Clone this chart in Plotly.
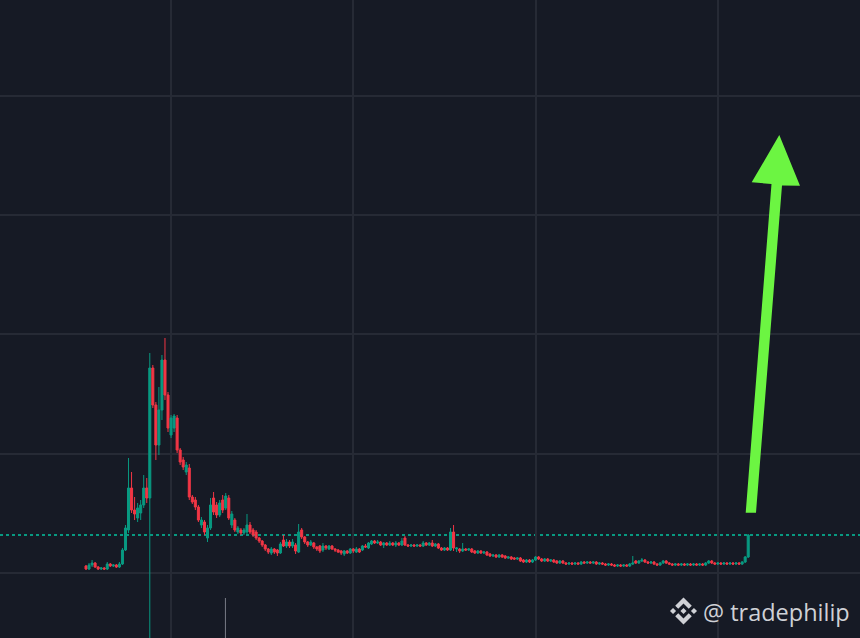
import plotly.graph_objects as go

# prices in ticks (1 tick = 0.0001), one candle per bar
TICK = 0.0001

opens = [
    134, 131, 135, 137, 133, 131, 132, 131, 136, 134, 135, 133, 136, 150, 170, 212, 190, 182, 187, 195,
    212, 202, 332, 295, 255, 290, 340, 305, 265, 272, 282, 250, 240, 228, 232, 203, 200, 193, 175, 178,
    162, 172, 202, 195, 185, 200, 192, 202, 175, 180, 168, 170, 167, 168, 175, 170, 168, 162, 159, 155,
    151, 147, 151, 150, 147, 160, 154, 158, 154, 155, 148, 170, 163, 158, 155, 157, 153, 154, 150, 154,
    151, 154, 151, 150, 149, 146, 149, 147, 151, 148, 151, 150, 154, 152, 156, 159, 157, 158, 155, 157,
    155, 157, 155, 157, 155, 162, 155, 154, 155, 154, 155, 154, 157, 155, 157, 154, 156, 152, 150, 152,
    150, 168, 151, 151, 149, 151, 150, 151, 149, 147, 149, 147, 148, 146, 144, 145, 143, 145, 144, 142,
    143, 142, 141, 142, 140, 138, 140, 138, 140, 143, 141, 139, 141, 139, 140, 139, 137, 139, 137, 136,
    137, 136, 137, 136, 138, 137, 138, 137, 138, 136, 137, 136, 135, 136, 135, 134, 135, 134, 135, 134,
    136, 139, 137, 139, 140, 138, 137, 138, 136, 135, 137, 139, 137, 136, 135, 136, 135, 136, 135, 136,
    135, 136, 135, 136, 135, 137, 139, 137, 136, 137, 136, 137, 136, 137, 136, 137, 136, 138, 143,
]
highs = [
    135, 137, 140, 138, 134, 133, 133, 138, 137, 136, 136, 138, 152, 175, 242, 228, 203, 197, 200, 225,
    222, 347, 335, 298, 313, 345, 362, 308, 285, 286, 285, 252, 243, 238, 236, 205, 203, 195, 183, 180,
    175, 202, 208, 198, 200, 205, 207, 205, 189, 182, 174, 172, 172, 186, 178, 172, 170, 163, 160, 156,
    152, 153, 152, 151, 158, 165, 161, 160, 161, 157, 176, 172, 164, 159, 160, 158, 154, 155, 157, 155,
    155, 155, 152, 151, 150, 150, 150, 152, 152, 153, 152, 155, 156, 158, 160, 160, 160, 159, 158, 158,
    159, 158, 159, 158, 162, 164, 156, 156, 156, 156, 156, 159, 158, 158, 160, 157, 157, 153, 153, 153,
    172, 175, 153, 152, 157, 152, 152, 152, 150, 150, 150, 149, 149, 147, 146, 146, 146, 146, 145, 144,
    144, 143, 143, 143, 141, 141, 141, 141, 144, 144, 142, 142, 142, 141, 141, 140, 140, 140, 138, 138,
    138, 138, 138, 139, 139, 139, 139, 139, 139, 138, 138, 137, 137, 137, 136, 136, 136, 136, 136, 137,
    144, 140, 140, 142, 141, 139, 139, 139, 137, 138, 140, 140, 138, 137, 137, 137, 137, 137, 137, 137,
    137, 137, 137, 137, 138, 140, 140, 138, 138, 138, 138, 138, 138, 138, 138, 138, 139, 144, 166,
]
lows = [
    130, 130, 133, 132, 130, 130, 130, 130, 133, 133, 132, 132, 135, 149, 167, 187, 180, 178, 180, 192,
    197, 20, 292, 240, 245, 280, 300, 268, 262, 268, 247, 235, 230, 225, 200, 196, 190, 178, 172, 165,
    158, 170, 185, 182, 183, 187, 190, 180, 172, 168, 166, 165, 165, 166, 166, 163, 160, 157, 153, 149,
    146, 145, 146, 144, 146, 153, 152, 152, 152, 146, 147, 161, 156, 153, 154, 151, 149, 147, 148, 150,
    150, 150, 148, 147, 145, 144, 146, 146, 147, 147, 147, 149, 152, 151, 155, 156, 156, 154, 152, 154,
    154, 154, 153, 154, 154, 154, 153, 153, 153, 153, 153, 153, 154, 154, 153, 153, 151, 149, 149, 149,
    149, 149, 148, 147, 148, 149, 149, 147, 146, 146, 146, 146, 144, 143, 143, 142, 142, 142, 141, 141,
    140, 140, 140, 138, 137, 137, 137, 137, 139, 140, 138, 138, 138, 138, 137, 136, 136, 136, 135, 135,
    135, 135, 135, 135, 136, 136, 136, 136, 135, 135, 135, 134, 134, 134, 133, 133, 133, 133, 133, 133,
    135, 136, 136, 138, 137, 136, 136, 135, 134, 134, 136, 136, 135, 134, 134, 134, 134, 134, 134, 134,
    134, 134, 134, 134, 134, 136, 136, 135, 135, 135, 135, 135, 135, 135, 135, 135, 135, 137, 142,
]
closes = [
    131, 135, 137, 133, 131, 132, 131, 136, 134, 135, 133, 136, 150, 172, 212, 190, 186, 192, 195, 212,
    202, 332, 295, 255, 290, 340, 305, 272, 282, 284, 250, 238, 233, 235, 203, 198, 193, 180, 180, 168,
    172, 195, 188, 185, 197, 190, 204, 182, 186, 170, 172, 167, 170, 175, 168, 165, 162, 159, 155, 151,
    148, 151, 148, 147, 156, 154, 158, 154, 158, 149, 168, 163, 158, 155, 158, 153, 151, 149, 154, 152,
    154, 151, 150, 148, 147, 149, 147, 151, 149, 151, 148, 154, 153, 157, 159, 157, 158, 155, 157, 155,
    157, 155, 157, 155, 159, 155, 154, 155, 154, 155, 154, 157, 155, 157, 154, 156, 152, 150, 152, 150,
    168, 152, 152, 149, 151, 150, 151, 148, 147, 149, 147, 148, 145, 144, 145, 143, 145, 143, 142, 143,
    141, 141, 142, 139, 138, 140, 138, 140, 143, 141, 139, 141, 139, 140, 138, 137, 139, 137, 136, 137,
    136, 137, 136, 138, 137, 138, 137, 138, 136, 137, 136, 135, 136, 135, 134, 135, 134, 135, 134, 136,
    137, 137, 139, 140, 138, 137, 138, 136, 135, 137, 139, 137, 136, 135, 136, 135, 136, 135, 136, 135,
    136, 135, 136, 135, 137, 139, 137, 136, 137, 136, 137, 136, 137, 136, 137, 136, 138, 143, 165,
]

bars = list(range(len(closes)))

W, H = 860, 638
BG = "#161a25"
GRID = "#262a35"
UP = "#089981"
DOWN = "#f23645"
ARROW = "#6cf542"
MARK = "#cfd1d6"


def px(x):
    return x / W


def py(y):
    return 1 - y / H


def path(points):
    s = "M " + " L ".join(f"{px(a):.5f},{py(b):.5f}" for a, b in points)
    return s + " Z"


fig = go.Figure(go.Candlestick(
    x=bars,
    open=[v * TICK for v in opens],
    high=[v * TICK for v in highs],
    low=[v * TICK for v in lows],
    close=[v * TICK for v in closes],
    increasing=dict(line=dict(color=UP, width=1), fillcolor=UP),
    decreasing=dict(line=dict(color=DOWN, width=1), fillcolor=DOWN),
    whiskerwidth=0,
    hoverinfo="skip",
))

shapes = []
# last price line
shapes.append(dict(type="line", xref="paper", x0=0, x1=1, yref="y",
                   y0=closes[-1] * TICK, y1=closes[-1] * TICK,
                   line=dict(color=UP, width=2, dash="dot"), layer="below"))
# thin grey marker line near the bottom
shapes.append(dict(type="line", xref="x", x0=45.9, x1=45.9, yref="paper",
                   y0=0, y1=py(598), line=dict(color="#787b86", width=1)))

# green arrow
shapes.append(dict(type="path", xref="paper", yref="paper",
                   path=path([(779.3, 135), (800, 185.7), (782, 185.5), (756, 512.7),
                              (745.7, 512.7), (771.5, 184), (751.7, 182.3)]),
                   fillcolor=ARROW, line=dict(width=0)))

# binance logo
s = 27 / 126.61
ox, oy = 670, 597.5


def logo(pts):
    return path([(ox + a * s, oy + b * s) for a, b in pts])


logo_parts = [
    [(38.73, 53.2), (63.3, 28.63), (87.89, 53.22), (102.19, 38.92), (63.3, 0), (24.43, 38.9)],
    [(38.73, 73.41), (63.3, 97.98), (87.89, 73.39), (102.19, 87.69), (63.3, 126.61), (24.43, 87.71)],
    [(0, 63.31), (14.3, 49.01), (28.6, 63.31), (14.3, 77.61)],
    [(98.01, 63.31), (112.31, 49.01), (126.61, 63.31), (112.31, 77.61)],
    [(63.3, 48.99), (77.61, 63.3), (63.3, 77.61), (48.99, 63.3)],
]
for part in logo_parts:
    shapes.append(dict(type="path", xref="paper", yref="paper", path=logo(part),
                       fillcolor=MARK, line=dict(width=0)))

fig.update_layout(
    width=W, height=H,
    margin=dict(l=0, r=0, t=0, b=0),
    paper_bgcolor=BG, plot_bgcolor=BG,
    showlegend=False,
    boxgap=0.05,
    shapes=shapes,
    annotations=[dict(text="@ tradephilip", xref="paper", yref="paper",
                      x=px(701), y=py(612), xanchor="left", yanchor="middle",
                      showarrow=False,
                      font=dict(family="Open Sans", size=23.5, color=MARK))],
    xaxis=dict(range=[-28.31, 254.8], tickmode="linear", tick0=28, dtick=60,
               showgrid=True, gridcolor=GRID, gridwidth=2,
               showticklabels=False, zeroline=False, showline=False,
               rangeslider=dict(visible=False)),
    yaxis=dict(range=[0.0062, 0.0700], tickmode="linear", tick0=0.0127, dtick=0.01193,
               showgrid=True, gridcolor=GRID, gridwidth=2,
               showticklabels=False, zeroline=False, showline=False),
)

fig.write_html("out.html",
               config={"displayModeBar": False},
               post_script="document.body.style.margin='0';"
                           "document.body.style.background='#161a25';")
